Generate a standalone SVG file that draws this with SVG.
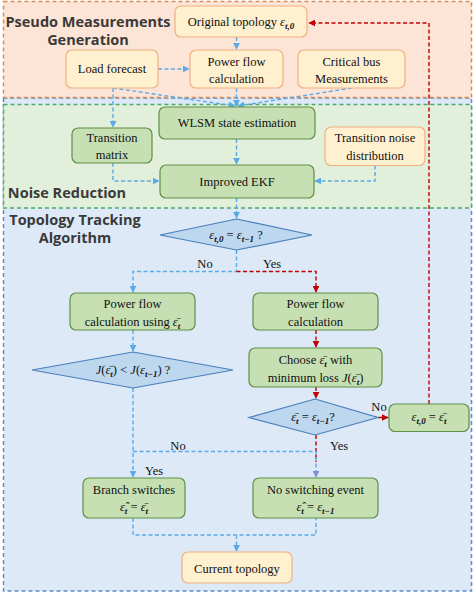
<svg xmlns="http://www.w3.org/2000/svg" width="474" height="616" viewBox="0 0 474 616">
<defs>
<style>
.t{font-family:"Liberation Serif","Times New Roman",serif;font-size:12.5px;fill:#111;text-anchor:middle}
.m{font-style:italic}
.s{font-size:9px;font-weight:bold;font-style:italic}
.h{font-family:"Open Sans","Noto Sans",sans-serif;font-weight:bold;font-size:14.5px;fill:#3a3a3a;text-anchor:middle}
.g{fill:#c6e0b4;stroke:#5f8f45;stroke-width:1.2}
.c{fill:#fff0cf;stroke:#f0b080;stroke-width:1.2}
.d{fill:#bdd7ee;stroke:#4a7fbd;stroke-width:1.2}
.b{fill:none;stroke:#5aaae8;stroke-width:1.4;stroke-dasharray:4 2.5}
.r{fill:none;stroke:#c00000;stroke-width:1.4;stroke-dasharray:4 2.5}
</style>
<marker id="ab" viewBox="0 0 10 10" refX="9" refY="5" markerWidth="7" markerHeight="7" orient="auto" markerUnits="userSpaceOnUse"><path d="M0,0 L10,5 L0,10 z" fill="#5aaae8"/></marker>
<marker id="ar" viewBox="0 0 10 10" refX="9" refY="5" markerWidth="7" markerHeight="7" orient="auto" markerUnits="userSpaceOnUse"><path d="M0,0 L10,5 L0,10 z" fill="#c00000"/></marker>
<marker id="ap" viewBox="0 0 10 10" refX="9" refY="5" markerWidth="7" markerHeight="7" orient="auto" markerUnits="userSpaceOnUse"><path d="M0,0 L10,5 L0,10 z" fill="#7c8fd8"/></marker>
</defs>
<rect width="474" height="616" fill="#ffffff"/>
<g id="regions">
<rect x="3.5" y="98" width="468" height="493" fill="#dde9f6" stroke="#5b8ccc" stroke-width="1.5" stroke-dasharray="4 3"/>
<rect x="3.5" y="1.5" width="468" height="96" fill="#fce4d6" stroke="#d98b55" stroke-width="1.5" stroke-dasharray="4 3"/>
<rect x="3.5" y="104.5" width="468" height="103.5" fill="#e2efda" stroke="#4cab6c" stroke-width="1.5" stroke-dasharray="4 3"/>
<text class="h" x="88" y="27">Pseudo Measurements</text>
<text class="h" x="88" y="45">Generation</text>
<text class="h" x="67" y="198">Noise Reduction</text>
<text class="h" x="75" y="225">Topology Tracking</text>
<text class="h" x="75" y="243">Algorithm</text>
</g>
<g id="connectors">
<path class="b" d="M236.5,37 V49" marker-end="url(#ab)"/>
<path class="b" d="M158,69 H189" marker-end="url(#ab)"/>
<path class="b" d="M113,88 L235,106" marker-end="url(#ab)"/>
<path class="b" d="M236.5,88 V106" marker-end="url(#ab)"/>
<path class="b" d="M352,88 L238,106" marker-end="url(#ab)"/>
<path class="b" d="M113,88 V127" marker-end="url(#ab)"/>
<path class="b" d="M236.5,139 V164" marker-end="url(#ab)"/>
<path class="b" d="M113,163 V181 H159" marker-end="url(#ab)"/>
<path class="b" d="M375,165.5 V181 H315" marker-end="url(#ab)"/>
<path class="b" d="M236.5,198 V218" marker-end="url(#ab)"/>
<path class="b" d="M236.5,250 V271.5 H133 V292" marker-end="url(#ab)"/>
<path class="r" d="M236.5,271.5 H316 V292" marker-end="url(#ar)"/>
<path class="r" d="M316,330 V347" marker-end="url(#ar)"/>
<path class="b" d="M133,330 V351" marker-end="url(#ab)"/>
<path class="r" d="M316,387 V398" marker-end="url(#ar)"/>
<path class="r" d="M378,417.5 H388" marker-end="url(#ar)"/>
<path class="r" d="M429,404 V23 H309" marker-end="url(#ar)"/>
<path class="r" d="M316,435 V462"/>
<path class="b" d="M133,451.5 H316 V477" marker-end="url(#ap)"/>
<path class="b" d="M133,388 V477" marker-end="url(#ab)"/>
<path class="b" d="M133,518 V535 H316 V518"/>
<path class="b" d="M236.5,535 V551" marker-end="url(#ab)"/>
<text class="t" x="205" y="268">No</text>
<text class="t" x="272" y="268">Yes</text>
<text class="t" x="379" y="411">No</text>
<text class="t" x="339" y="450">Yes</text>
<text class="t" x="178" y="450">No</text>
<text class="t" x="154" y="475">Yes</text>
</g>
<g id="n-original"><rect class="c" x="175" y="6" width="132" height="31" rx="6"/><text class="t" x="241" y="26">Original topology <tspan class="m">ε</tspan><tspan class="s" dy="3">t,0</tspan></text></g>
<g id="n-load"><rect class="c" x="66" y="50" width="92" height="38" rx="6"/><text class="t" x="112" y="73">Load forecast</text></g>
<g id="n-pf"><rect class="c" x="190" y="50" width="93" height="38" rx="6"/><text class="t" x="236.5" y="66">Power flow</text><text class="t" x="236.5" y="83">calculation</text></g>
<g id="n-critical"><rect class="c" x="298" y="50" width="107" height="38" rx="6"/><text class="t" x="351.5" y="66">Critical bus</text><text class="t" x="351.5" y="83">Measurements</text></g>
<g id="n-wlsm"><rect class="g" x="159" y="107" width="156" height="32" rx="6"/><text class="t" x="237" y="127">WLSM state estimation</text></g>
<g id="n-tmatrix"><rect class="g" x="72" y="128" width="80" height="35" rx="6"/><text class="t" x="112" y="142">Transition</text><text class="t" x="112" y="159">matrix</text></g>
<g id="n-tnoise"><rect class="c" x="325" y="127" width="100" height="38.5" rx="6"/><text class="t" x="375" y="142">Transition noise</text><text class="t" x="375" y="160">distribution</text></g>
<g id="n-ekf"><rect class="g" x="160" y="165" width="154" height="33" rx="6"/><text class="t" x="237" y="186">Improved EKF</text></g>
<g id="n-dec1"><path class="d" d="M236.5,219 L312,235 L236.5,250 L160,235 Z"/><text class="t" x="236" y="239"><tspan class="m">ε</tspan><tspan class="s" dy="3">t,0</tspan><tspan dy="-3"> = </tspan><tspan class="m">ε</tspan><tspan class="s" dy="3">t−1</tspan><tspan dy="-3"> ?</tspan></text></g>
<g id="n-pfusing"><rect class="g" x="70" y="293" width="125" height="37" rx="6"/><text class="t" x="132.5" y="308">Power flow</text><text class="t" x="132.5" y="326">calculation using <tspan class="m">ε̄</tspan><tspan class="s" dy="3">t</tspan></text></g>
<g id="n-pf2"><rect class="g" x="253" y="293" width="125" height="37" rx="6"/><text class="t" x="315.5" y="308">Power flow</text><text class="t" x="315.5" y="326">calculation</text></g>
<g id="n-choose"><rect class="g" x="249" y="348" width="133" height="39" rx="6"/><text class="t" x="315.5" y="364">Choose <tspan class="m">ε̄</tspan><tspan class="s" dy="3">t</tspan><tspan dy="-3"> with</tspan></text><text class="t" x="315.5" y="382">minimum loss <tspan class="m">J</tspan>(<tspan class="m">ε̄</tspan><tspan class="s" dy="3">t</tspan><tspan dy="-3">)</tspan></text></g>
<g id="n-dec2"><path class="d" d="M133,352 L233,370 L133,388 L32,370 Z"/><text class="t" x="133" y="374"><tspan class="m">J</tspan>(<tspan class="m">ε̄</tspan><tspan class="s" dy="3">t</tspan><tspan dy="-3">) &lt; </tspan><tspan class="m">J</tspan>(<tspan class="m">ε</tspan><tspan class="s" dy="3">t−1</tspan><tspan dy="-3">) ?</tspan></text></g>
<g id="n-dec3"><path class="d" d="M315,399 L378,417.5 L315,435 L249,417.5 Z"/><text class="t" x="313" y="421"><tspan class="m">ε̄</tspan><tspan class="s" dy="3">t</tspan><tspan dy="-3"> = </tspan><tspan class="m">ε</tspan><tspan class="s" dy="3">t−1</tspan><tspan dy="-3">?</tspan></text></g>
<g id="n-update"><rect class="g" x="389" y="404" width="80" height="27.5" rx="6"/><text class="t" x="429" y="421"><tspan class="m">ε</tspan><tspan class="s" dy="3">t,0</tspan><tspan dy="-3"> = </tspan><tspan class="m">ε̄</tspan><tspan class="s" dy="3">t</tspan></text></g>
<g id="n-branch"><rect class="g" x="83" y="478" width="102" height="40" rx="6"/><text class="t" x="134" y="494">Branch switches</text><text class="t" x="134" y="511"><tspan class="m">ε̂</tspan><tspan class="s" dy="3">t</tspan><tspan dy="-3"> = </tspan><tspan class="m">ε̄</tspan><tspan class="s" dy="3">t</tspan></text></g>
<g id="n-noswitch"><rect class="g" x="253" y="478" width="125" height="40" rx="6"/><text class="t" x="315.5" y="494">No switching event</text><text class="t" x="315.5" y="511"><tspan class="m">ε̂</tspan><tspan class="s" dy="3">t</tspan><tspan dy="-3"> = </tspan><tspan class="m">ε</tspan><tspan class="s" dy="3">t−1</tspan></text></g>
<g id="n-current"><rect class="c" x="182" y="552" width="110" height="31" rx="6"/><text class="t" x="237" y="573">Current topology</text></g>
</svg>
